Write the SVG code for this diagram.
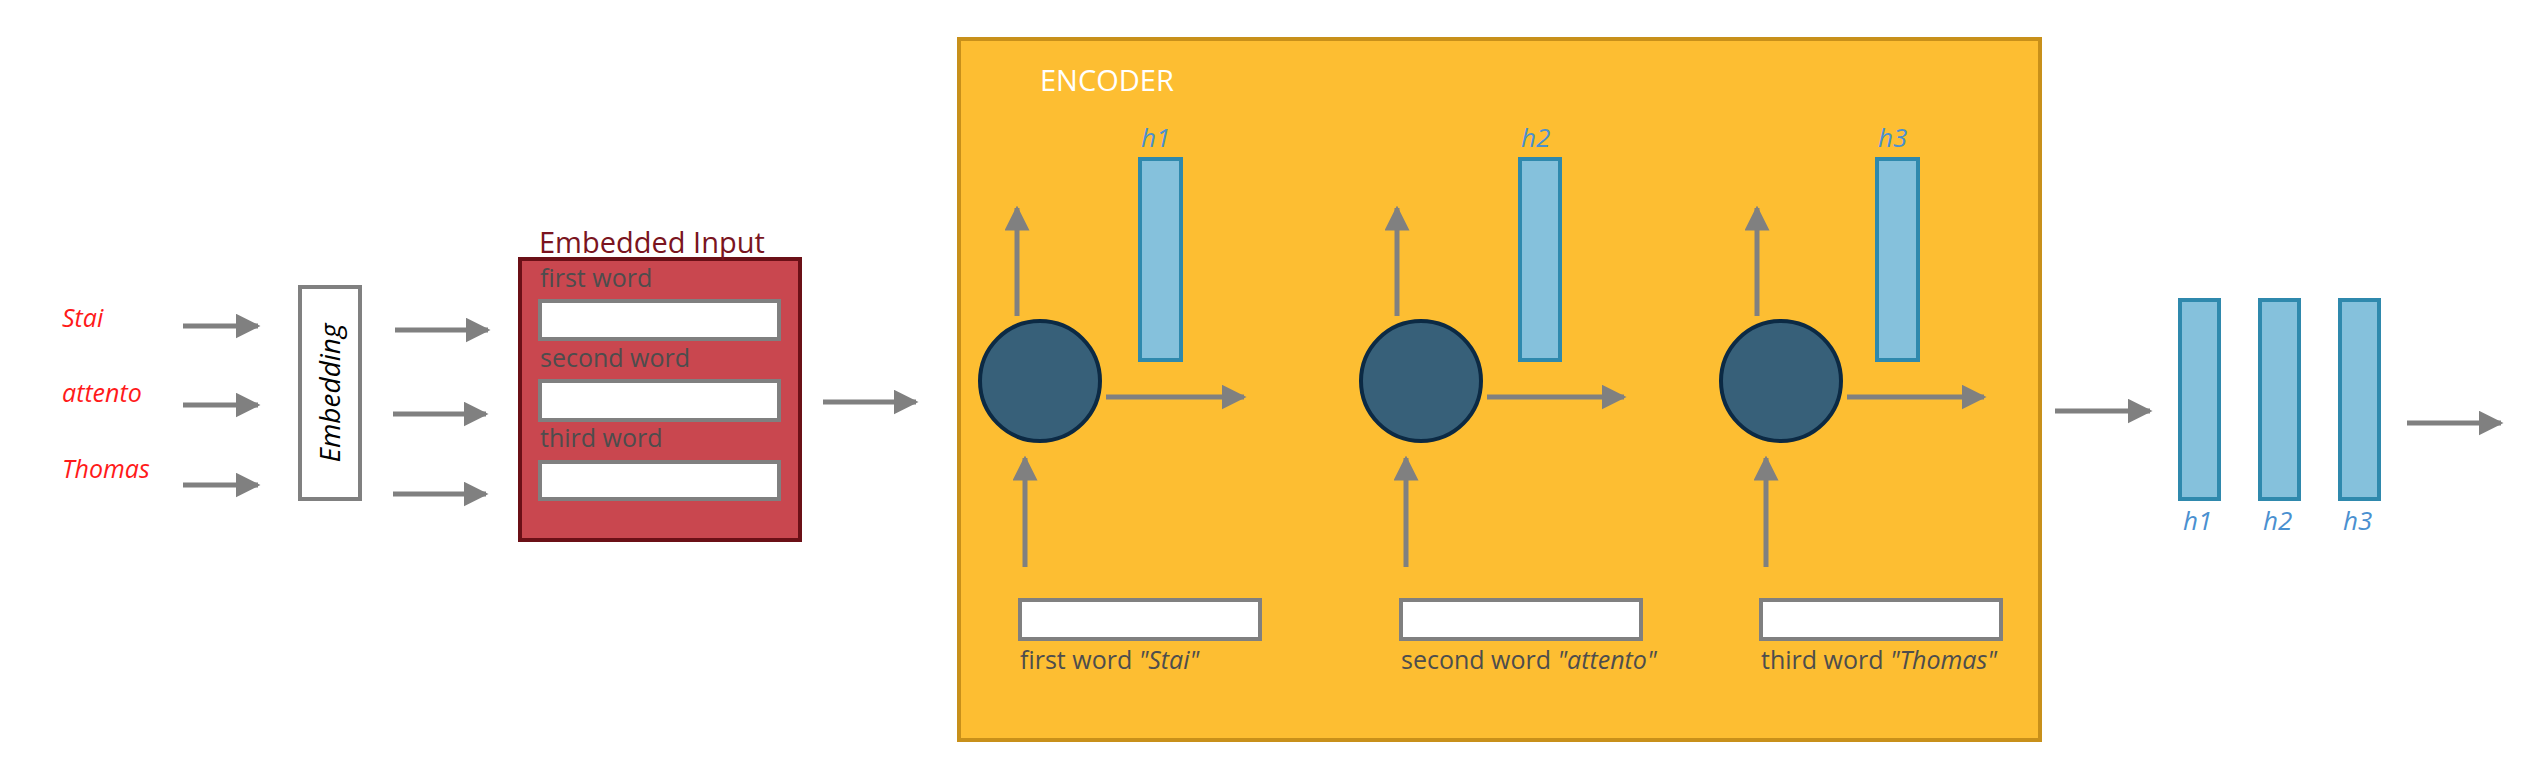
<svg xmlns="http://www.w3.org/2000/svg" width="2540" height="781" viewBox="0 0 2540 781">
<defs>
<marker id="ah" viewBox="0 0 10 10" refX="9" refY="5" markerWidth="5" markerHeight="5" orient="auto" markerUnits="strokeWidth"><path d="M0,0 L10,5 L0,10 Z" fill="#808080"/></marker>
<style>
.a{stroke:#808080;stroke-width:5;fill:none;marker-end:url(#ah)}
.t{font-family:"Open Sans","DejaVu Sans",sans-serif}
.w{fill:#4d4d4d;font-size:25px}
.red{fill:#ff1a1a;font-size:25px;font-style:italic}
.h{fill:#4a90d0;font-size:26px;font-style:italic}
.bar{fill:#85c1dc;stroke:#2f89ad;stroke-width:4}
.box{fill:#fff;stroke:#808080;stroke-width:4}
.cell{fill:#376079;stroke:#0c2a44;stroke-width:4}
</style>
</defs>
<rect width="2540" height="781" fill="#fff"/>
<g id="words" class="t red"><text x="62" y="327">Stai</text><text x="62" y="402">attento</text><text x="62" y="478">Thomas</text></g>
<g id="embedding"><rect x="300" y="287" width="60" height="212" fill="#fff" stroke="#808080" stroke-width="4"/>
<text class="t" transform="translate(340,393) rotate(-90)" text-anchor="middle" font-size="28" font-style="italic" fill="#000">Embedding</text></g>
<g id="embedded-input"><rect x="520" y="259" width="280" height="281" fill="#c9474f" stroke="#6b1017" stroke-width="4"/>
<text class="t" x="539" y="253" font-size="29" fill="#7a1420">Embedded Input</text>
<text class="t w" x="540" y="287">first word</text><rect class="box" x="540" y="301" width="239" height="38"/>
<text class="t w" x="540" y="367">second word</text><rect class="box" x="540" y="381" width="239" height="39"/>
<text class="t w" x="540" y="447">third word</text><rect class="box" x="540" y="462" width="239" height="37"/></g>
<g id="encoder"><rect x="959" y="39" width="1081" height="701" fill="#fdbe32" stroke="#c8901a" stroke-width="4"/>
<text class="t" x="1040" y="91" font-size="29" fill="#fff">ENCODER</text>
<rect class="bar" x="1140" y="159" width="41" height="201"/><text class="t h" x="1141" y="147">h1</text>
<rect class="bar" x="1520" y="159" width="40" height="201"/><text class="t h" x="1521" y="147">h2</text>
<rect class="bar" x="1877" y="159" width="41" height="201"/><text class="t h" x="1878" y="147">h3</text>
<circle class="cell" cx="1040" cy="381" r="60"/><circle class="cell" cx="1421" cy="381" r="60"/><circle class="cell" cx="1781" cy="381" r="60"/>
<rect class="box" x="1020" y="600" width="240" height="39"/><text class="t w" x="1020" y="669">first word  <tspan font-style="italic">"Stai"</tspan></text>
<rect class="box" x="1401" y="600" width="240" height="39"/><text class="t w" x="1401" y="669">second word  <tspan font-style="italic">"attento"</tspan></text>
<rect class="box" x="1761" y="600" width="240" height="39"/><text class="t w" x="1761" y="669">third word  <tspan font-style="italic">"Thomas"</tspan></text></g>
<g id="outputs"><rect class="bar" x="2180" y="300" width="39" height="199"/><rect class="bar" x="2260" y="300" width="39" height="199"/><rect class="bar" x="2340" y="300" width="39" height="199"/>
<text class="t h" x="2183" y="530">h1</text><text class="t h" x="2263" y="530">h2</text><text class="t h" x="2343" y="530">h3</text></g>
<g id="connectors">
<path class="a" d="M183,326H258"/><path class="a" d="M183,405H258"/><path class="a" d="M183,485H258"/>
<path class="a" d="M395,330H488"/><path class="a" d="M393,414H486"/><path class="a" d="M393,494H486"/>
<path class="a" d="M823,402H916"/>
<path class="a" d="M1017,316V208"/><path class="a" d="M1397,316V208"/><path class="a" d="M1757,316V208"/>
<path class="a" d="M1106,397H1244"/><path class="a" d="M1487,397H1624"/><path class="a" d="M1847,397H1984"/>
<path class="a" d="M1025,567V458"/><path class="a" d="M1406,567V458"/><path class="a" d="M1766,567V458"/>
<path class="a" d="M2055,411H2150"/><path class="a" d="M2407,423H2501"/>
</g>
</svg>
